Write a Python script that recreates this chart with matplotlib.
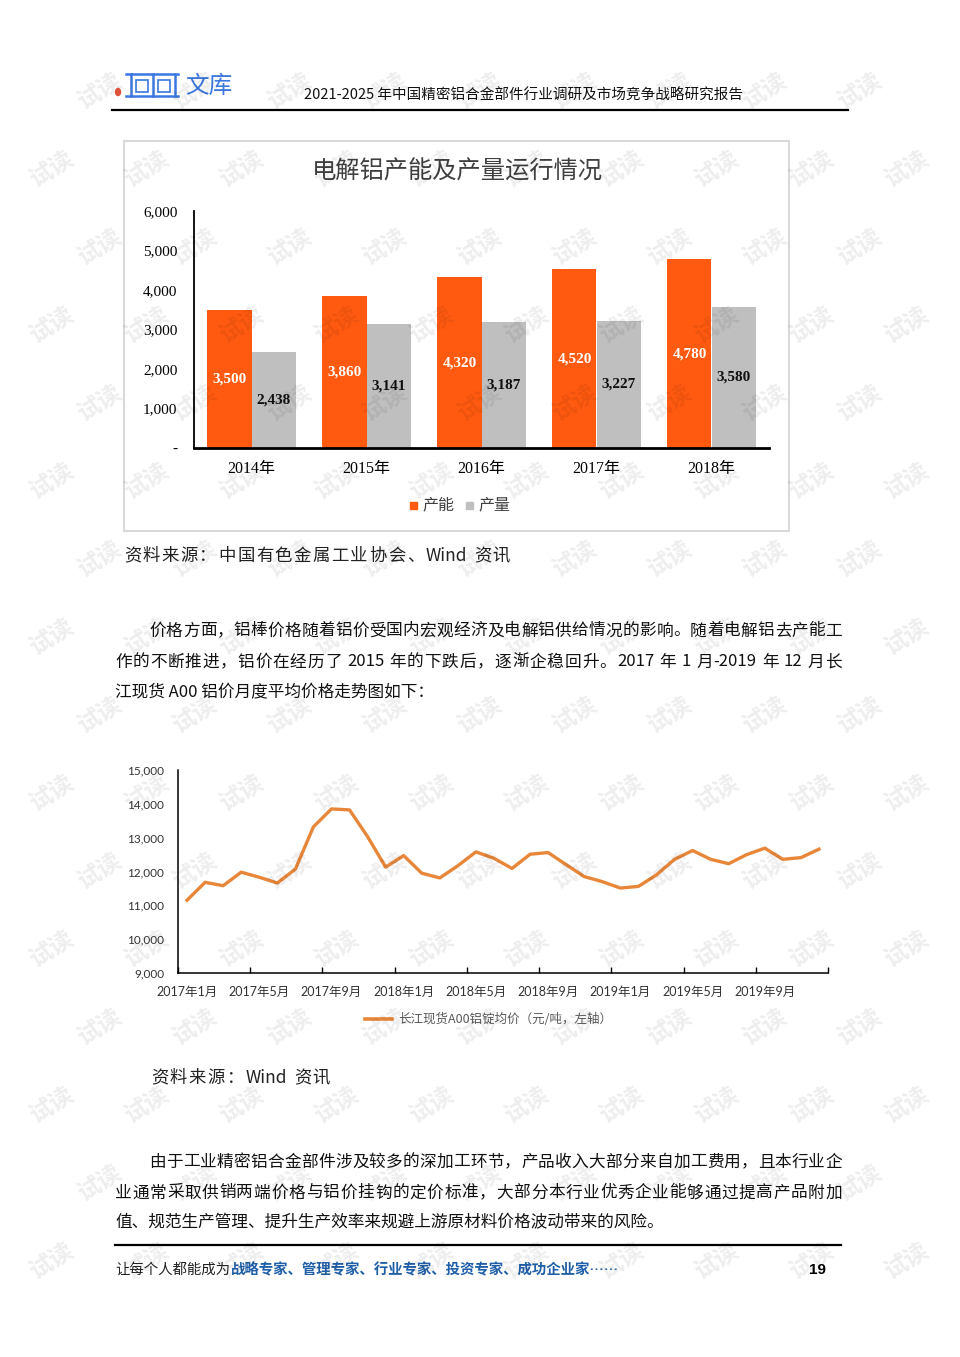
import re
import matplotlib.pyplot as plt
from matplotlib.patches import Rectangle
from matplotlib.lines import Line2D
import numpy as np

W, H = 960, 1357

# bar chart data
years = ["2014年", "2015年", "2016年", "2017年", "2018年"]
capacity = [3500, 3860, 4320, 4520, 4780]
output = [2438, 3141, 3187, 3227, 3580]

# monthly A00 aluminium price, 2017-01 .. 2019-12
price = [11150, 11680, 11580, 11980, 11830, 11660, 12070, 13320, 13850, 13820,
         13030, 12130, 12470, 11950, 11810, 12170, 12580, 12390, 12090, 12510,
         12560, 12200, 11850, 11700, 11510, 11560, 11900, 12360, 12620, 12360,
         12230, 12500, 12690, 12360, 12410, 12660]
month_labels = ["2017年1月", "2017年5月", "2017年9月", "2018年1月", "2018年5月",
                "2018年9月", "2019年1月", "2019年5月", "2019年9月"]

CJK = ["Noto Sans CJK SC", "DejaVu Sans"]
SERIF = ["Liberation Serif", "Noto Sans CJK SC"]
SANS = ["Lato", "Noto Sans CJK SC"]
plt.rcParams["font.family"] = CJK


def fx(px):
    return px / W


def fy(py):
    return 1 - py / H


def put(x, y, s, **kw):
    kw.setdefault("va", "center")
    kw.setdefault("family", CJK)
    return fig.text(fx(x), fy(y), s, **kw)


def spread(x0, x1, y, s, **kw):
    # lay a line out token by token so it fills x0..x1 (justified text)
    tokens = re.findall(r"[A-Za-z0-9\-]+| |.", s)
    renderer = fig.canvas.get_renderer()
    texts, widths = [], []
    for tok in tokens:
        if tok == " ":
            texts.append(None)
            widths.append(kw.get("fontsize", 12) * 0.3)
            continue
        t = put(x0, y, tok, **kw)
        texts.append(t)
        widths.append(t.get_window_extent(renderer).width)
    gap = (x1 - x0 - sum(widths)) / max(len(tokens) - 1, 1)
    x = x0
    for t, w in zip(texts, widths):
        if t is not None:
            t.set_x(fx(x))
        x += w + gap


fig = plt.figure(figsize=(W / 100, H / 100), dpi=100)

# ---- header
fig.add_artist(Line2D([fx(112), fx(848)], [fy(110), fy(110)], color="black", lw=1.6))
put(523, 96, "2021-2025 年中国精密铝合金部件行业调研及市场竞争战略研究报告",
    ha="center", fontsize=10.5, color="#111111")
blue = "#3a78e0"
for xs, ys in [([126, 178], [74, 74]), ([126, 178], [96, 96]), ([131, 131], [74, 96]),
               ([153, 153], [74, 96]), ([175, 175], [74, 96])]:
    fig.add_artist(Line2D([fx(v) for v in xs], [fy(v) for v in ys], color=blue, lw=1.8))
for x0 in (136, 158):
    fig.add_artist(Rectangle((fx(x0), fy(92)), 12 / W, 12 / H, transform=fig.transFigure,
                             fill=False, ec=blue, lw=1.2))
fig.add_artist(plt.Circle((fx(118), fy(92)), 2.5 / W, transform=fig.transFigure, color="#e0503a"))
put(185, 86, "文库", fontsize=17, color=blue)

# ---- bar chart
fig.add_artist(Rectangle((fx(124), fy(531)), (789 - 124) / W, (531 - 141) / H,
                         transform=fig.transFigure, fill=False, ec="#d9d9d9", lw=1.5))
put(457, 172, "电解铝产能及产量运行情况", ha="center", fontsize=17.5, color="#404040")

ax1 = fig.add_axes([fx(194), fy(448), (769 - 194) / W, (448 - 211) / H])
x = np.arange(len(years))
bw = 0.383
b1 = ax1.bar(x - bw / 2, capacity, bw, color="#ff5a10")
b2 = ax1.bar(x + bw / 2, output, bw, color="#bfbfbf")
for rect, v in zip(b1, capacity):
    ax1.text(rect.get_x() + rect.get_width() / 2, v / 2, f"{v:,}", ha="center", va="center",
             color="white", fontsize=11, fontweight="bold", family=SERIF)
for rect, v in zip(b2, output):
    ax1.text(rect.get_x() + rect.get_width() / 2, v / 2, f"{v:,}", ha="center", va="center",
             color="#111111", fontsize=11, fontweight="bold", family=SERIF)
ax1.set_xlim(-0.5, 4.5)
ax1.set_ylim(0, 6000)
ax1.set_yticks(range(0, 6001, 1000))
ax1.set_yticklabels(["-"] + [f"{v:,}" for v in range(1000, 6001, 1000)], family=SERIF,
                    fontsize=11)
ax1.set_xticks(x)
ax1.set_xticklabels(years, family=SERIF, fontsize=11.5)
ax1.tick_params(axis="y", length=0, pad=12)
ax1.tick_params(axis="x", length=0, pad=9)
for s in ("top", "right"):
    ax1.spines[s].set_visible(False)
ax1.spines["left"].set_linewidth(1.3)
ax1.spines["bottom"].set_linewidth(2)
ax1.patch.set_alpha(0)

fig.add_artist(Rectangle((fx(410), fy(509)), 7 / W, 7 / H, transform=fig.transFigure,
                         color="#ff5a10"))
put(422, 505, "产能", fontsize=11.5, color="#404040")
fig.add_artist(Rectangle((fx(466), fy(509)), 7 / W, 7 / H, transform=fig.transFigure,
                         color="#bfbfbf"))
put(478, 505, "产量", fontsize=11.5, color="#404040")

spread(124, 510, 556, "资料来源：中国有色金属工业协会、Wind 资讯", fontsize=12.5, color="#222222")

# ---- paragraph 1
para1 = ["价格方面，铝棒价格随着铝价受国内宏观经济及电解铝供给情况的影响。随着电解铝去产能工",
         "作的不断推进，铝价在经历了 2015 年的下跌后，逐渐企稳回升。2017 年 1 月-2019 年 12 月长",
         "江现货 A00 铝价月度平均价格走势图如下："]
spread(149, 842, 631, para1[0], fontsize=12, color="#111111")
spread(115, 842, 662, para1[1], fontsize=12, color="#111111")
put(115, 693, para1[2], fontsize=12, color="#111111")

# ---- line chart
ax2 = fig.add_axes([fx(178), fy(973), (828 - 178) / W, (973 - 770) / H])
ax2.plot(np.arange(len(price)), price, color="#e8873a", lw=2.4, solid_joinstyle="round")
ax2.set_xlim(-0.5, len(price) - 0.5)
ax2.set_ylim(9000, 15000)
ax2.set_yticks(range(9000, 15001, 1000))
ax2.set_yticklabels([f"{v:,}" for v in range(9000, 15001, 1000)], family=SANS, fontsize=8.5,
                    color="#333333")
ax2.set_xticks(np.arange(0, 36, 4))
ax2.set_xticklabels(month_labels, family=SANS, fontsize=9, color="#333333")
ax2.set_xticks(np.arange(-0.5, 36, 4), minor=True)
ax2.tick_params(axis="x", which="major", length=0, pad=9)
ax2.tick_params(axis="x", which="minor", length=4, direction="in", width=1)
ax2.tick_params(axis="y", length=0, pad=10)
for s in ("top", "right"):
    ax2.spines[s].set_visible(False)
ax2.spines["left"].set_linewidth(1.1)
ax2.spines["bottom"].set_linewidth(1.1)
ax2.patch.set_alpha(0)

fig.add_artist(Line2D([fx(365), fx(392)], [fy(1019), fy(1019)], color="#e8873a", lw=2.6))
put(398, 1019, "长江现货A00铝锭均价（元/吨，左轴）", fontsize=9, color="#595959")

spread(151, 330, 1078, "资料来源：Wind 资讯", fontsize=12.5, color="#222222")

# ---- paragraph 2
para2 = ["由于工业精密铝合金部件涉及较多的深加工环节，产品收入大部分来自加工费用，且本行业企",
         "业通常采取供销两端价格与铝价挂钩的定价标准，大部分本行业优秀企业能够通过提高产品附加",
         "值、规范生产管理、提升生产效率来规避上游原材料价格波动带来的风险。"]
spread(149, 842, 1162, para2[0], fontsize=12, color="#111111")
spread(115, 842, 1193, para2[1], fontsize=12, color="#111111")
put(115, 1223, para2[2], fontsize=12, color="#111111")

# ---- footer
fig.add_artist(Line2D([fx(115), fx(841)], [fy(1245), fy(1245)], color="black", lw=1.6))
put(115, 1270, "让每个人都能成为", fontsize=10.4, color="#222222")
put(231, 1270, "战略专家、管理专家、行业专家、投资专家、成功企业家……", fontsize=10.4,
    color="#1f5fa8", fontweight="bold")
put(809, 1270, "19", fontsize=11, fontweight="bold", family=["Liberation Sans"], color="black")

# ---- watermark
for r in range(18):
    yy = 13 + 78 * r
    off = 47 if r % 2 == 0 else 0
    for k in range(-1, 11):
        xx = 5 + 95 * k + off
        if xx < 30 or xx > 930 or yy < 30 or yy > 1330:
            continue
        put(xx, yy, "试读", ha="center", fontsize=17, color="black", alpha=0.07,
            rotation=32, fontweight="bold", zorder=10)

fig.savefig("out.png", dpi=100)
